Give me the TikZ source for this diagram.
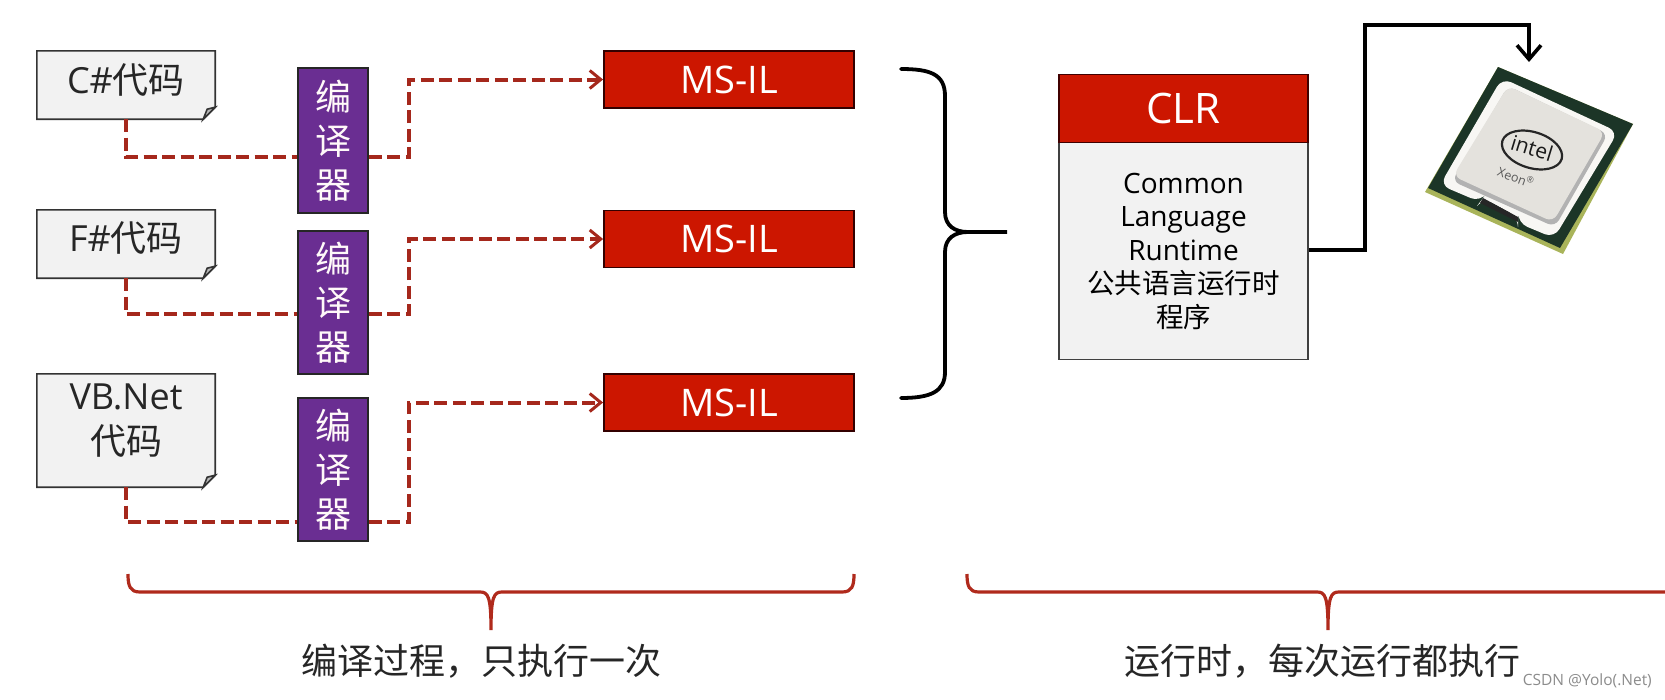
\documentclass[tikz,border=0pt]{standalone}
\usepackage{fontspec}
\setmainfont{Open Sans}
\newfontfamily\cjk{Noto Sans CJK SC}
\usetikzlibrary{arrows.meta,calc}
\definecolor{boxred}{HTML}{CC1600}
\definecolor{dashred}{HTML}{A5281C}
\definecolor{bracered}{HTML}{B02A1C}
\definecolor{compurple}{HTML}{6A2E92}
\definecolor{notegray}{HTML}{F2F2F2}
\definecolor{cpugreen}{HTML}{1C3527}
\definecolor{cpugold}{HTML}{A9B45A}
\definecolor{lidwhite}{HTML}{F8F7F4}
\definecolor{lidface}{HTML}{E4E2DD}
\tikzset{
  notebox/.style={minimum height=#1,minimum width=178pt,inner sep=0pt},
  notetext/.style={inner sep=0pt,align=center,font=\fontsize{36}{45}\selectfont,text=black!85},
  compbox/.style={draw=black!85,line width=1.8pt,fill=compurple,text=white!90!pink,minimum width=70pt,minimum height=#1,inner sep=0pt,align=center,font=\cjk\fontsize{36}{44}\selectfont},
  msbox/.style={draw=black!80!red,line width=1.8pt,fill=boxred,text=white,minimum width=250pt,minimum height=57pt,inner sep=0pt,font=\fontsize{38}{40}\selectfont},
  dashline/.style={draw=dashred,line width=4pt,dash pattern=on 13pt off 5.5pt},
  dasharrow/.style={dashline,-{Straight Barb[length=11pt,width=18pt,line width=3pt]}},
  blackline/.style={draw=black,line width=3.8pt},
  redbrace/.style={draw=bracered,line width=3.2pt},
  notepath/.style={draw=black!80,line width=1.6pt,fill=notegray},
}
\begin{document}
\begin{tikzpicture}[x=1pt,y=-1pt]
\useasboundingbox (0,0) rectangle (1665,699);
\fill[white] (0,0) rectangle (1665,699);

% source notes
\node[notebox=68pt] (cs) at (126,85) {};
\node[notebox=68pt] (fs) at (126,244) {};
\node[notebox=113pt] (vb) at (126,430.5) {};
\foreach \n in {cs,fs,vb}{
  \path[notepath] (\n.north west) -- (\n.north east) -- ([yshift=12pt]\n.south east) -- ([xshift=-12pt]\n.south east) -- (\n.south west) -- cycle;
  \path[notepath,fill=gray!55] ([yshift=12pt]\n.south east) -- ([xshift=-8pt,yshift=10pt]\n.south east) -- ([xshift=-12pt]\n.south east) -- cycle;
}
\node[notetext] (cst) at (126,80) {C\#{\cjk 代码}};
\node[notetext] (fst) at (126,238) {F\#{\cjk 代码}};
\node[notetext] (vbt) at (126,420.5) {VB.Net\\{\cjk 代码}};

% compilers
\node[compbox=145pt] (c1) at (333,140.5) {编\\译\\器};
\node[compbox=143pt] (c2) at (333,302.5) {编\\译\\器};
\node[compbox=143pt] (c3) at (333,469.5) {编\\译\\器};

% MS-IL
\node[msbox] (ms1) at (729,79.5) {MS-IL};
\node[msbox] (ms2) at (729,239) {MS-IL};
\node[msbox] (ms3) at (729,402.5) {MS-IL};

% dashed connectors
\coordinate (r1) at (409,157);
\coordinate (r2) at (409,314);
\coordinate (r3) at (409,522);
\draw[dashline] (cs.south) |- (c1.west |- r1);
\draw[dashline] (fs.south) |- (c2.west |- r2);
\draw[dashline] (vb.south) |- (c3.west |- r3);
\draw[dasharrow] (c1.east |- r1) -- (r1) |- (ms1.west);
\draw[dasharrow] (c2.east |- r2) -- (r2) |- (ms2.west);
\draw[dasharrow] (c3.east |- r3) -- (r3) |- (ms3.west);

% large black brace
\coordinate (bt) at (901,69);
\coordinate (bm) at (1007,232);
\coordinate (bb) at (901,398);
\draw[blackline,line cap=round] (bt) .. controls (930,69) and (945,74) .. (945,96)
  -- (945,212) .. controls (945,226) and (955,232) .. (968,232) -- (bm)
  -- (968,232) .. controls (955,232) and (945,238) .. (945,252)
  -- (945,372) .. controls (945,392) and (930,398) .. (bb);

% CLR
\node[draw=black!75,line width=1.8pt,fill=notegray,minimum width=249pt,minimum height=217pt,inner sep=0pt,align=center,
  font=\fontsize{28}{33.5}\selectfont] (clrb) at (1183.5,251)
  {Common\\Language\\Runtime\\{\cjk\fontsize{27.5}{33.5}\selectfont 公共语言运行时}\\{\cjk\fontsize{27.5}{33.5}\selectfont 程序}};
\node[draw=black!75!red,line width=1.8pt,fill=boxred,text=white,minimum width=249pt,minimum height=68pt,inner sep=0pt,
  font=\fontsize{42}{44}\selectfont] (clrh) at (1183.5,108.5) {CLR};

% CPU (drawn directly)
\coordinate (cputop) at (1529,62);
\fill[cpugold] (1498,67) -- (1633,124) -- (1563,254) -- (1425,192) -- cycle;
\fill[cpugreen] (1498,67) -- (1633,124) -- (1560,248) -- (1428,188) -- cycle;
\fill[lidwhite,rounded corners=10pt] (1502,78) -- (1618,132) -- (1554,238) -- (1518,223) -- (1518,217) -- (1483,198) -- (1480,202) -- (1440,185) -- cycle;
\fill[gray!60,rounded corners=8pt] (1508,86) -- (1608,134) -- (1555,227) -- (1452,181) -- cycle;
\fill[lidface,rounded corners=8pt] (1508,86) -- (1605,132) -- (1553,222) -- (1453,176) -- cycle;
\fill[black!85] (1483,198) -- (1518,217) -- (1518,222) -- (1480,203) -- cycle;
\draw[black!85,line width=2.2pt,rotate around={-17:(1532,150)}] (1532,150) ellipse (31pt and 18pt);
\node[rotate=-17,font=\fontsize{21}{22}\selectfont,text=black!90,inner sep=0pt] (intel) at (1532,148) {intel};
\node[rotate=-20,font=\fontsize{12.5}{14}\selectfont,text=black!65,inner sep=0pt] (xeon) at (1516,177) {Xeon\textsuperscript{®}};

% black connector
\coordinate (k1) at (1365,250);
\coordinate (k2) at (1365,25);
\draw[blackline,-{Straight Barb[length=14pt,width=24pt,line width=3.6pt]},line join=miter] (clrb.east |- k1) -- (k1) -- (k2) -| (cputop);

% bottom braces
\coordinate (la) at (128,574);
\coordinate (lb) at (854,574);
\coordinate (lm) at (491,630);
\coordinate (ra) at (967,574);
\coordinate (rb) at (1665,592);
\coordinate (rm) at (1328,630);
\draw[redbrace] (la) .. controls (128,586) and (130,592) .. (140,592) -- (480,592) .. controls (488,592) and (491,596) .. (lm)
  .. controls (491,596) and (494,592) .. (502,592) -- (842,592) .. controls (852,592) and (854,586) .. (lb);
\draw[redbrace] (ra) .. controls (967,586) and (969,592) .. (979,592) -- (1317,592) .. controls (1325,592) and (1328,596) .. (rm)
  .. controls (1328,596) and (1331,592) .. (1339,592) -- (rb);

% captions
\node[font=\cjk\fontsize{36}{38}\selectfont,text=black!85,inner sep=0pt] (tl) at (481,661) {编译过程，只执行一次};
\node[font=\cjk\fontsize{36}{38}\selectfont,text=black!85,inner sep=0pt] (tr) at (1322,661) {运行时，每次运行都执行};
\node[font=\fontsize{15.5}{18}\selectfont,text=black!45,inner sep=0pt,anchor=east] (wm) at (1652,681) {CSDN @Yolo(.Net)};
\end{tikzpicture}
\end{document}
